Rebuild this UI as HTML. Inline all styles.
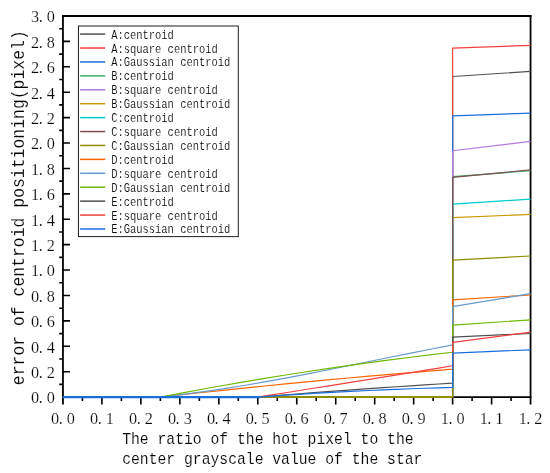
<!DOCTYPE html>
<html lang="en">
<head>
<meta charset="utf-8">
<title>Error of centroid positioning</title>
<style>
html,body{margin:0;padding:0;background:#fff;}
body{width:550px;height:473px;overflow:hidden;}
svg{display:block;}
</style>
</head>
<body>
<svg width="550" height="473" viewBox="0 0 550 473" font-family='"Liberation Serif", serif' fill="#000">
<rect width="550" height="473" fill="#fff"/>
<g stroke="#000" stroke-width="1.80" fill="none" stroke-linecap="butt">
<path d="M62.95 15.10 V404.60"/>
<path d="M62.05 16.00 H531.45"/>
<path d="M530.55 15.10 V404.60"/>
<path d="M62.05 397.10 H531.45"/>
</g>
<g stroke="#000" stroke-width="1.6" fill="none">
<path d="M62.95 384.40h-3.7 M62.95 371.69h7 M62.95 358.99h-3.7 M62.95 346.29h7 M62.95 333.58h-3.7 M62.95 320.88h7 M62.95 308.18h-3.7 M62.95 295.47h7 M62.95 282.77h-3.7 M62.95 270.07h7 M62.95 257.36h-3.7 M62.95 244.66h7 M62.95 231.96h-3.7 M62.95 219.25h7 M62.95 206.55h-3.7 M62.95 193.85h7 M62.95 181.14h-3.7 M62.95 168.44h7 M62.95 155.74h-3.7 M62.95 143.03h7 M62.95 130.33h-3.7 M62.95 117.63h7 M62.95 104.92h-3.7 M62.95 92.22h7 M62.95 79.52h-3.7 M62.95 66.81h7 M62.95 54.11h-3.7 M62.95 41.41h7 M62.95 28.70h-3.7 M82.43 397.10v3.9 M101.92 397.10v7.5 M121.40 397.10v3.9 M140.88 397.10v7.5 M160.37 397.10v3.9 M179.85 397.10v7.5 M199.33 397.10v3.9 M218.82 397.10v7.5 M238.30 397.10v3.9 M257.78 397.10v7.5 M277.27 397.10v3.9 M296.75 397.10v7.5 M316.23 397.10v3.9 M335.72 397.10v7.5 M355.20 397.10v3.9 M374.68 397.10v7.5 M394.17 397.10v3.9 M413.65 397.10v7.5 M433.13 397.10v3.9 M452.62 397.10v7.5 M472.10 397.10v3.9 M491.58 397.10v7.5 M511.07 397.10v3.9"/>
</g>
<g fill="none" stroke-width="1.18" stroke-linejoin="round">
<polyline stroke="#515151" points="62.95,397.10 452.62,397.10 452.62,76.52 530.55,71.41"/>
<polyline stroke="#F14040" points="62.95,397.10 452.62,397.10 452.62,48.11 530.55,45.31"/>
<polyline stroke="#1A6FDF" points="62.95,397.10 452.62,397.10 452.62,115.87 530.55,113.18"/>
<polyline stroke="#37AD6B" points="62.95,397.10 452.62,397.10 452.62,176.65 530.55,170.74"/>
<polyline stroke="#B177DE" points="62.95,397.10 452.62,397.10 452.62,150.73 530.55,141.43"/>
<polyline stroke="#CC9900" points="62.95,397.10 452.62,397.10 452.62,217.65 530.55,214.35"/>
<polyline stroke="#00CBCC" points="62.95,397.10 452.62,397.10 452.62,204.20 530.55,199.06"/>
<polyline stroke="#7D4E4E" points="62.95,397.10 452.62,397.10 452.62,177.33 530.55,169.84"/>
<polyline stroke="#8E8E00" points="62.95,397.10 452.62,397.10 452.62,260.16 530.55,255.97"/>
<path d="M62.95 397.00H453.32" stroke="#8E8E00" stroke-width="2.05"/>
<polyline stroke="#FB6501" points="62.95,397.10 160.37,397.10 181.24,394.78 202.12,392.51 222.99,390.30 243.87,388.13 264.74,386.01 285.62,383.94 306.49,381.91 327.37,379.94 348.24,378.02 369.12,376.14 389.99,374.32 410.87,372.55 431.74,370.82 452.62,369.14 452.62,299.87 530.55,294.97"/>
<polyline stroke="#6699CC" points="62.95,397.10 160.37,397.10 181.24,394.71 202.12,391.95 222.99,388.87 243.87,385.50 264.74,381.88 285.62,378.06 306.49,374.07 327.37,369.96 348.24,365.77 369.12,361.53 389.99,357.29 410.87,353.08 431.74,348.96 452.62,344.95 452.62,306.68 530.55,293.67"/>
<polyline stroke="#6FB802" points="62.95,397.10 160.37,397.10 181.24,393.12 202.12,389.25 222.99,385.51 243.87,381.89 264.74,378.39 285.62,375.01 306.49,371.75 327.37,368.60 348.24,365.58 369.12,362.68 389.99,359.90 410.87,357.24 431.74,354.70 452.62,352.28 452.62,325.20 530.55,319.88"/>
<polyline stroke="#515151" points="62.95,397.10 257.78,397.10 271.70,395.97 285.62,394.86 299.53,393.77 313.45,392.70 327.37,391.66 341.28,390.63 355.20,389.62 369.12,388.64 383.03,387.67 396.95,386.73 410.87,385.81 424.78,384.91 438.70,384.03 452.62,383.17 452.62,337.18 530.55,333.48"/>
<polyline stroke="#F14040" points="62.95,397.10 257.78,397.10 271.70,394.91 285.62,392.71 299.53,390.50 313.45,388.29 327.37,386.07 341.28,383.84 355.20,381.61 369.12,379.36 383.03,377.11 396.95,374.86 410.87,372.59 424.78,370.32 438.70,368.05 452.62,365.76 452.62,342.29 530.55,332.19"/>
<polyline stroke="#1A6FDF" points="62.95,397.10 257.78,397.10 271.70,396.12 285.62,395.19 299.53,394.30 313.45,393.46 327.37,392.66 341.28,391.90 355.20,391.18 369.12,390.51 383.03,389.89 396.95,389.31 410.87,388.77 424.78,388.27 438.70,387.82 452.62,387.41 452.62,353.08 530.55,349.79"/>
<path d="M62.95 397.10H259.78" stroke="#1A6FDF" stroke-width="2.05"/>
</g>
<rect x="78.45" y="26.00" width="159.85" height="210.60" fill="#fff" stroke="#1c1c1c" stroke-width="1"/>
<g stroke-width="1.5" fill="none">
<path d="M80.1 34.10H105.2" stroke="#515151"/>
<path d="M80.1 48.02H105.2" stroke="#F14040"/>
<path d="M80.1 61.94H105.2" stroke="#1A6FDF"/>
<path d="M80.1 75.86H105.2" stroke="#37AD6B"/>
<path d="M80.1 89.78H105.2" stroke="#B177DE"/>
<path d="M80.1 103.70H105.2" stroke="#CC9900"/>
<path d="M80.1 117.62H105.2" stroke="#00CBCC"/>
<path d="M80.1 131.54H105.2" stroke="#7D4E4E"/>
<path d="M80.1 145.46H105.2" stroke="#8E8E00"/>
<path d="M80.1 159.38H105.2" stroke="#FB6501"/>
<path d="M80.1 173.30H105.2" stroke="#6699CC"/>
<path d="M80.1 187.22H105.2" stroke="#6FB802"/>
<path d="M80.1 201.14H105.2" stroke="#515151"/>
<path d="M80.1 215.06H105.2" stroke="#F14040"/>
<path d="M80.1 228.98H105.2" stroke="#1A6FDF"/>
</g>
<text x="111.20" y="38.60" font-family='"Liberation Mono", monospace' font-size="12.00" textLength="62.70" lengthAdjust="spacingAndGlyphs" stroke="#fff" stroke-width="0.15">A:centroid</text>
<text x="111.20" y="52.52" font-family='"Liberation Mono", monospace' font-size="12.00" textLength="106.59" lengthAdjust="spacingAndGlyphs" stroke="#fff" stroke-width="0.15">A:square centroid</text>
<text x="111.20" y="66.44" font-family='"Liberation Mono", monospace' font-size="12.00" textLength="119.13" lengthAdjust="spacingAndGlyphs" stroke="#fff" stroke-width="0.15">A:Gaussian centroid</text>
<text x="111.20" y="80.36" font-family='"Liberation Mono", monospace' font-size="12.00" textLength="62.70" lengthAdjust="spacingAndGlyphs" stroke="#fff" stroke-width="0.15">B:centroid</text>
<text x="111.20" y="94.28" font-family='"Liberation Mono", monospace' font-size="12.00" textLength="106.59" lengthAdjust="spacingAndGlyphs" stroke="#fff" stroke-width="0.15">B:square centroid</text>
<text x="111.20" y="108.20" font-family='"Liberation Mono", monospace' font-size="12.00" textLength="119.13" lengthAdjust="spacingAndGlyphs" stroke="#fff" stroke-width="0.15">B:Gaussian centroid</text>
<text x="111.20" y="122.12" font-family='"Liberation Mono", monospace' font-size="12.00" textLength="62.70" lengthAdjust="spacingAndGlyphs" stroke="#fff" stroke-width="0.15">C:centroid</text>
<text x="111.20" y="136.04" font-family='"Liberation Mono", monospace' font-size="12.00" textLength="106.59" lengthAdjust="spacingAndGlyphs" stroke="#fff" stroke-width="0.15">C:square centroid</text>
<text x="111.20" y="149.96" font-family='"Liberation Mono", monospace' font-size="12.00" textLength="119.13" lengthAdjust="spacingAndGlyphs" stroke="#fff" stroke-width="0.15">C:Gaussian centroid</text>
<text x="111.20" y="163.88" font-family='"Liberation Mono", monospace' font-size="12.00" textLength="62.70" lengthAdjust="spacingAndGlyphs" stroke="#fff" stroke-width="0.15">D:centroid</text>
<text x="111.20" y="177.80" font-family='"Liberation Mono", monospace' font-size="12.00" textLength="106.59" lengthAdjust="spacingAndGlyphs" stroke="#fff" stroke-width="0.15">D:square centroid</text>
<text x="111.20" y="191.72" font-family='"Liberation Mono", monospace' font-size="12.00" textLength="119.13" lengthAdjust="spacingAndGlyphs" stroke="#fff" stroke-width="0.15">D:Gaussian centroid</text>
<text x="111.20" y="205.64" font-family='"Liberation Mono", monospace' font-size="12.00" textLength="62.70" lengthAdjust="spacingAndGlyphs" stroke="#fff" stroke-width="0.15">E:centroid</text>
<text x="111.20" y="219.56" font-family='"Liberation Mono", monospace' font-size="12.00" textLength="106.59" lengthAdjust="spacingAndGlyphs" stroke="#fff" stroke-width="0.15">E:square centroid</text>
<text x="111.20" y="233.48" font-family='"Liberation Mono", monospace' font-size="12.00" textLength="119.13" lengthAdjust="spacingAndGlyphs" stroke="#fff" stroke-width="0.15">E:Gaussian centroid</text>
<text x="35.12 40.77 50.83" y="403.40" font-size="16.30" text-anchor="middle" stroke="#fff" stroke-width="0.2">0.0</text>
<text x="35.12 40.77 50.83" y="377.99" font-size="16.30" text-anchor="middle" stroke="#fff" stroke-width="0.2">0.2</text>
<text x="35.12 40.77 50.83" y="352.59" font-size="16.30" text-anchor="middle" stroke="#fff" stroke-width="0.2">0.4</text>
<text x="35.12 40.77 50.83" y="327.18" font-size="16.30" text-anchor="middle" stroke="#fff" stroke-width="0.2">0.6</text>
<text x="35.12 40.77 50.83" y="301.77" font-size="16.30" text-anchor="middle" stroke="#fff" stroke-width="0.2">0.8</text>
<text x="35.12 40.77 50.83" y="276.37" font-size="16.30" text-anchor="middle" stroke="#fff" stroke-width="0.2">1.0</text>
<text x="35.12 40.77 50.83" y="250.96" font-size="16.30" text-anchor="middle" stroke="#fff" stroke-width="0.2">1.2</text>
<text x="35.12 40.77 50.83" y="225.55" font-size="16.30" text-anchor="middle" stroke="#fff" stroke-width="0.2">1.4</text>
<text x="35.12 40.77 50.83" y="200.15" font-size="16.30" text-anchor="middle" stroke="#fff" stroke-width="0.2">1.6</text>
<text x="35.12 40.77 50.83" y="174.74" font-size="16.30" text-anchor="middle" stroke="#fff" stroke-width="0.2">1.8</text>
<text x="35.12 40.77 50.83" y="149.33" font-size="16.30" text-anchor="middle" stroke="#fff" stroke-width="0.2">2.0</text>
<text x="35.12 40.77 50.83" y="123.93" font-size="16.30" text-anchor="middle" stroke="#fff" stroke-width="0.2">2.2</text>
<text x="35.12 40.77 50.83" y="98.52" font-size="16.30" text-anchor="middle" stroke="#fff" stroke-width="0.2">2.4</text>
<text x="35.12 40.77 50.83" y="73.11" font-size="16.30" text-anchor="middle" stroke="#fff" stroke-width="0.2">2.6</text>
<text x="35.12 40.77 50.83" y="47.71" font-size="16.30" text-anchor="middle" stroke="#fff" stroke-width="0.2">2.8</text>
<text x="35.12 40.77 50.83" y="22.30" font-size="16.30" text-anchor="middle" stroke="#fff" stroke-width="0.2">3.0</text>
<text x="55.10 60.75 70.80" y="424.10" font-size="16.30" text-anchor="middle" stroke="#fff" stroke-width="0.2">0.0</text>
<text x="94.07 99.72 109.77" y="424.10" font-size="16.30" text-anchor="middle" stroke="#fff" stroke-width="0.2">0.1</text>
<text x="133.03 138.68 148.73" y="424.10" font-size="16.30" text-anchor="middle" stroke="#fff" stroke-width="0.2">0.2</text>
<text x="172.00 177.65 187.70" y="424.10" font-size="16.30" text-anchor="middle" stroke="#fff" stroke-width="0.2">0.3</text>
<text x="210.97 216.62 226.67" y="424.10" font-size="16.30" text-anchor="middle" stroke="#fff" stroke-width="0.2">0.4</text>
<text x="249.93 255.58 265.63" y="424.10" font-size="16.30" text-anchor="middle" stroke="#fff" stroke-width="0.2">0.5</text>
<text x="288.90 294.55 304.60" y="424.10" font-size="16.30" text-anchor="middle" stroke="#fff" stroke-width="0.2">0.6</text>
<text x="327.87 333.52 343.57" y="424.10" font-size="16.30" text-anchor="middle" stroke="#fff" stroke-width="0.2">0.7</text>
<text x="366.83 372.48 382.53" y="424.10" font-size="16.30" text-anchor="middle" stroke="#fff" stroke-width="0.2">0.8</text>
<text x="405.80 411.45 421.50" y="424.10" font-size="16.30" text-anchor="middle" stroke="#fff" stroke-width="0.2">0.9</text>
<text x="444.77 450.42 460.47" y="424.10" font-size="16.30" text-anchor="middle" stroke="#fff" stroke-width="0.2">1.0</text>
<text x="483.73 489.38 499.43" y="424.10" font-size="16.30" text-anchor="middle" stroke="#fff" stroke-width="0.2">1.1</text>
<text x="522.70 528.35 538.40" y="424.10" font-size="16.30" text-anchor="middle" stroke="#fff" stroke-width="0.2">1.2</text>
<text x="122.20" y="443.90" font-family='"Liberation Mono", monospace' font-size="16.80" textLength="291.39" lengthAdjust="spacingAndGlyphs" stroke="#fff" stroke-width="0.15">The ratio of the hot pixel to the</text>
<text x="122.20" y="463.50" font-family='"Liberation Mono", monospace' font-size="16.80" textLength="300.22" lengthAdjust="spacingAndGlyphs" stroke="#fff" stroke-width="0.15">center grayscale value of the star</text>
<text transform="translate(23.80 385.20) rotate(-90)" x="0.00" y="0.00" font-family='"Liberation Mono", monospace' font-size="18.70" textLength="354.96" lengthAdjust="spacingAndGlyphs" stroke="#fff" stroke-width="0.15">error of centroid positioning(pixel)</text>
</svg>
</body>
</html>
